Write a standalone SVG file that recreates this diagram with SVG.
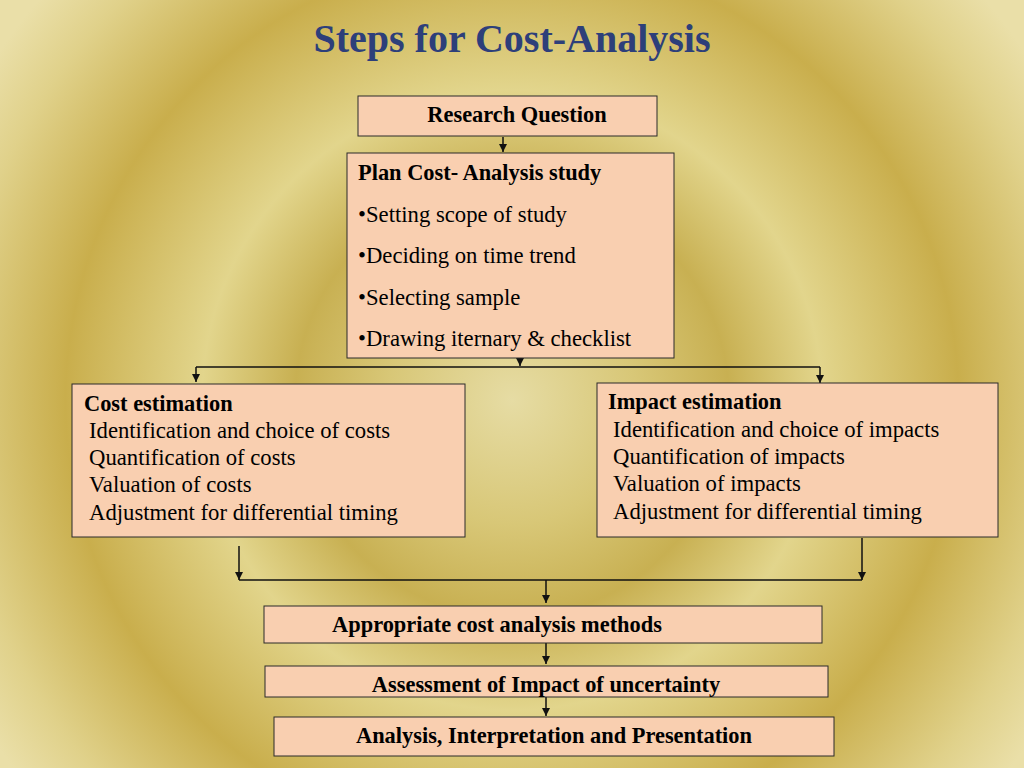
<svg xmlns="http://www.w3.org/2000/svg" width="1024" height="768" viewBox="0 0 1024 768">
<defs>
<radialGradient id="bg" cx="512" cy="400" r="620" gradientUnits="userSpaceOnUse">
<stop offset="0" stop-color="#e6dca4"/>
<stop offset="0.2" stop-color="#d8c777"/>
<stop offset="0.35" stop-color="#c8b052"/>
<stop offset="0.5" stop-color="#e2d58c"/>
<stop offset="0.72" stop-color="#c9ae4c"/>
<stop offset="0.9" stop-color="#e0d18a"/>
<stop offset="1" stop-color="#eadfa8"/>
</radialGradient>
<marker id="ah" markerWidth="10" markerHeight="10" refX="8" refY="5" orient="auto" markerUnits="userSpaceOnUse">
<path d="M0,1 L8,5 L0,9 z" fill="#111"/>
</marker>
<style>
.box{fill:#f9cfb0;stroke:#2a2a2a;stroke-width:1}
.t{font-family:"Liberation Serif",serif;font-size:22.7px;fill:#000}
.b{font-weight:bold;font-size:22.4px}
.c{stroke:#111;stroke-width:1.5;fill:none}
</style>
</defs>
<rect width="1024" height="768" fill="url(#bg)"/>
<text x="512" y="52" text-anchor="middle" font-family="Liberation Serif,serif" font-size="40" font-weight="bold" fill="#2d3f7a">Steps for Cost-Analysis</text>
<g id="connectors">
<path class="c" d="M503,137 V152" marker-end="url(#ah)"/>
<path class="c" d="M196,367 H820"/>
<path class="c" d="M196,367 V382" marker-end="url(#ah)"/>
<path class="c" d="M820,367 V383" marker-end="url(#ah)"/>
<path class="c" d="M520,358 V366" marker-end="url(#ah)"/>
<path class="c" d="M239,546 V580" marker-end="url(#ah)"/>
<path class="c" d="M862,538 V580" marker-end="url(#ah)"/>
<path class="c" d="M239,580 H862"/>
<path class="c" d="M546,580 V603" marker-end="url(#ah)"/>
<path class="c" d="M546,643 V664" marker-end="url(#ah)"/>
<path class="c" d="M546,697 V716" marker-end="url(#ah)"/>
</g>
<g id="research"><rect class="box" x="358" y="96" width="299" height="40"/><text class="t b" x="517" y="122" text-anchor="middle">Research Question</text></g>
<g id="plan"><rect class="box" x="347" y="153" width="327" height="205"/>
<text class="t b" x="358" y="180">Plan Cost- Analysis study</text>
<text class="t" x="358" y="222">•Setting scope of study</text>
<text class="t" x="358" y="263">•Deciding on time trend</text>
<text class="t" x="358" y="305">•Selecting sample</text>
<text class="t" x="358" y="346">•Drawing iternary &amp; checklist</text></g>
<g id="cost"><rect class="box" x="72" y="384" width="393" height="153"/>
<text class="t b" x="84" y="411">Cost estimation</text>
<text class="t" x="89" y="438">Identification and choice of costs</text>
<text class="t" x="89" y="465">Quantification of costs</text>
<text class="t" x="89" y="492">Valuation of costs</text>
<text class="t" x="89" y="520">Adjustment for differential timing</text></g>
<g id="impact"><rect class="box" x="597" y="383" width="401" height="154"/>
<text class="t b" x="608" y="409">Impact estimation</text>
<text class="t" x="613" y="437">Identification and choice of impacts</text>
<text class="t" x="613" y="464">Quantification of impacts</text>
<text class="t" x="613" y="491">Valuation of impacts</text>
<text class="t" x="613" y="519">Adjustment for differential timing</text></g>
<g id="methods"><rect class="box" x="264" y="606" width="558" height="37"/><text class="t b" x="497" y="632" text-anchor="middle">Appropriate cost analysis methods</text></g>
<g id="uncertainty"><rect class="box" x="265" y="666" width="563" height="31"/><text class="t b" x="546" y="692" text-anchor="middle">Assessment of Impact of uncertainty</text></g>
<g id="presentation"><rect class="box" x="274" y="717" width="560" height="39"/><text class="t b" x="554" y="743" text-anchor="middle">Analysis, Interpretation and Presentation</text></g>
</svg>
